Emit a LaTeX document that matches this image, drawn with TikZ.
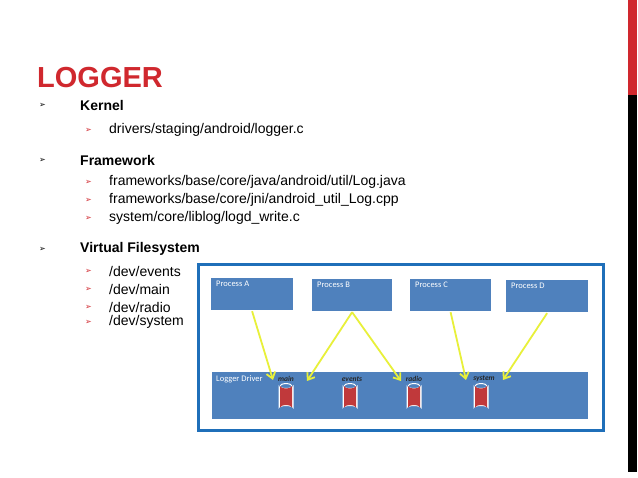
\documentclass[tikz,border=0pt]{standalone}
\usepackage{fontspec}
\setmainfont{Liberation Sans}
\newfontfamily\calfont{Carlito}
\newfontfamily\symfont{DejaVu Sans}
\usetikzlibrary{shapes.geometric,arrows.meta}
\definecolor{ttl}{HTML}{D0282E}
\definecolor{pblue}{HTML}{4F81BD}
\definecolor{bord}{HTML}{1F6FB9}
\definecolor{cyl}{HTML}{C0393B}
\definecolor{yel}{HTML}{E8F03A}
\tikzset{
  bul/.style={font=\symfont\fontsize{8}{8}\selectfont, anchor=west, inner sep=0},
  l1/.style={font=\fontsize{14}{16}\selectfont\bfseries, anchor=west, inner sep=0},
  l2/.style={font=\fontsize{14}{16}\selectfont, anchor=west, inner sep=0},
  proc/.style={draw=white, line width=1.2pt, fill=pblue, anchor=north west, minimum width=#1, minimum height=33pt, inner sep=0},
  plab/.style={font=\calfont\fontsize{8.5}{9}\selectfont, text=white, anchor=north west, inner sep=0},
  dlab/.style={font=\calfont\bfseries\itshape\fontsize{7.5}{8}\selectfont, text=black!85, inner sep=0},
  yarr/.style={draw=yel, line width=1.8pt, -{Straight Barb[length=6pt,width=9pt]}},
  pics/dbase/.style={code={
    \fill[white] (-7.5,-12) -- (-7.5,12) arc[start angle=180,end angle=360,x radius=7.5,y radius=3] -- (7.5,-12) arc[start angle=0,end angle=180,x radius=7.5,y radius=3] -- cycle;
    \fill[cyl] (-6,-11) -- (-6,10.5) arc[start angle=180,end angle=360,x radius=6,y radius=2.4] -- (6,-11) arc[start angle=0,end angle=180,x radius=6,y radius=2.4] -- cycle;
    \draw[white, line width=1pt] (-6,-11) arc[start angle=180,end angle=360,x radius=6,y radius=2.4];
  }},
}
\begin{document}
\begin{tikzpicture}[x=1pt,y=-1pt]
\useasboundingbox (0,0) rectangle (638,478);
\fill[white] (0,0) rectangle (638,478);
\fill[ttl] (628,0) rectangle (637,95);
\fill[black] (628,95) rectangle (637,472);
\node[anchor=base west, inner sep=0, text=ttl, font=\fontsize{29}{30}\selectfont\bfseries] (title) at (37,88) {LOGGER};
\node[bul] (b1) at (39,105) {➢}; \node[l1] (t1) at (80,105) {Kernel};
\node[bul,text=ttl] (b11) at (85,130) {➢}; \node[l2] (t11) at (109,130) {drivers/staging/android/logger.c};
\node[bul] (b2) at (39,160) {➢}; \node[l1] (t2) at (80,160) {Framework};
\node[bul,text=ttl] (b21) at (85,182) {➢}; \node[l2] (t21) at (109,182) {frameworks/base/core/java/android/util/Log.java};
\node[bul,text=ttl] (b22) at (85,200) {➢}; \node[l2] (t22) at (109,200) {frameworks/base/core/jni/android\_util\_Log.cpp};
\node[bul,text=ttl] (b23) at (85,218) {➢}; \node[l2] (t23) at (109,218) {system/core/liblog/logd\_write.c};
\node[bul] (b3) at (39,249) {➢}; \node[l1] (t3) at (80,249) {Virtual Filesystem};
\node[bul,text=ttl] (b31) at (85,271) {➢}; \node[l2] (t31) at (109,271) {/dev/events};
\node[bul,text=ttl] (b32) at (85,289) {➢}; \node[l2] (t32) at (109,289) {/dev/main};
\node[bul,text=ttl] (b33) at (85,307) {➢}; \node[l2] (t33) at (109,307) {/dev/radio};
\node[bul,text=ttl] (b34) at (85,322) {➢}; \node[l2] (t34) at (109,322) {/dev/system};
% diagram
\draw[bord, line width=3pt, fill=white] (198,265) rectangle (603,431);
\node[proc=83pt] (pa) at (210,277) {}; \node[plab] at (216,281) {Process A};
\node[proc=81pt] (pb) at (311,278) {}; \node[plab] at (317,282) {Process B};
\node[proc=82pt] (pc) at (409,278) {}; \node[plab] at (415,282) {Process C};
\node[proc=83pt] (pd) at (505,279) {}; \node[plab] at (511,283) {Process D};
\node[draw=white, line width=1.2pt, fill=pblue, anchor=north west, minimum width=377pt, minimum height=48pt, inner sep=0] (ld) at (211,371) {};
\node[plab] at (216,375) {Logger Driver};
\pic at (286,397) {dbase}; \node[dlab] (l1) at (286,379) {main};
\pic at (350,397) {dbase}; \node[dlab] (l2) at (352,379) {events};
\pic at (414,397) {dbase}; \node[dlab] (l3) at (414,379) {radio};
\pic at (481,397) {dbase}; \node[dlab] (l4) at (484,379) {system};
\coordinate (ea) at (273,380); \coordinate (eb1) at (307,381); \coordinate (eb2) at (401,381);
\coordinate (ec) at (466,380); \coordinate (ed) at (503,380);
\draw[yarr] (pa.south) -- (ea);
\draw[yarr] (pb.south) -- (eb1);
\draw[yarr] (pb.south) -- (eb2);
\draw[yarr] (pc.south) -- (ec);
\draw[yarr] (pd.south) -- (ed);
\end{tikzpicture}
\end{document}
